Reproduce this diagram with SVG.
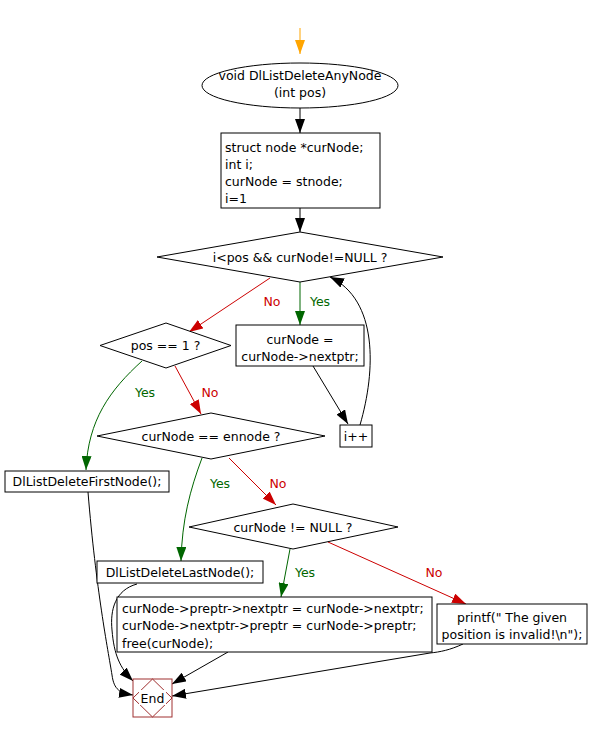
<svg xmlns="http://www.w3.org/2000/svg" width="589" height="732" viewBox="0 0 589 732">
<style>
text{font-family:"DejaVu Sans","Liberation Sans",sans-serif;font-size:12.5px;fill:#000}
.c{text-anchor:middle}
.n{fill:#fff;stroke:#000;stroke-width:1}
.e{fill:none;stroke:#000;stroke-width:1}
.r{stroke:#cc0000}
.g{stroke:#006600}
.o{stroke:#ffa500}
.lr{fill:#cc0000}
.lg{fill:#006600}
</style>
<defs>
<marker id="ab" markerUnits="userSpaceOnUse" viewBox="0 0 14 10" refX="14" refY="5" markerWidth="14" markerHeight="10" orient="auto"><path d="M0,0 L14,5 L0,10 z" fill="#000"/></marker>
<marker id="ar" markerUnits="userSpaceOnUse" viewBox="0 0 14 10" refX="14" refY="5" markerWidth="14" markerHeight="10" orient="auto"><path d="M0,0 L14,5 L0,10 z" fill="#cc0000"/></marker>
<marker id="ag" markerUnits="userSpaceOnUse" viewBox="0 0 14 10" refX="14" refY="5" markerWidth="14" markerHeight="10" orient="auto"><path d="M0,0 L14,5 L0,10 z" fill="#006600"/></marker>
<marker id="ao" markerUnits="userSpaceOnUse" viewBox="0 0 14 10" refX="14" refY="5" markerWidth="14" markerHeight="10" orient="auto"><path d="M0,0 L14,5 L0,10 z" fill="#ffa500"/></marker>
</defs>

<g id="connectors">
<path class="e o" d="M300,28 L300,54" marker-end="url(#ao)"/>
<path class="e" d="M300,108 L300,133" marker-end="url(#ab)"/>
<path class="e" d="M300,208 L300,232" marker-end="url(#ab)"/>
<path class="e g" d="M300,282 L300,325" marker-end="url(#ag)"/>
<path class="e r" d="M270,278 L189,332" marker-end="url(#ar)"/>
<path class="e" d="M313,366 L348,424" marker-end="url(#ab)"/>
<path class="e" d="M360,425 C376,370 378,300 330,277" marker-end="url(#ab)"/>
<path class="e r" d="M175,366 L201,414" marker-end="url(#ar)"/>
<path class="e g" d="M142,361 C110,390 88,420 86,470" marker-end="url(#ag)"/>
<path class="e r" d="M229,458 L276,505" marker-end="url(#ar)"/>
<path class="e g" d="M202,458 C190,490 182,520 181,561" marker-end="url(#ag)"/>
<path class="e g" d="M290,549 L281,597" marker-end="url(#ag)"/>
<path class="e r" d="M328,542 L466,604" marker-end="url(#ar)"/>
<path class="e" d="M88,492 C96,590 108,650 112,675 C114,690 120,693 133,695" marker-end="url(#ab)"/>
<path class="e" d="M137,584 C115,590 110,610 112,630 C114,655 120,668 133,681" marker-end="url(#ab)"/>
<path class="e" d="M228,652 L172,684" marker-end="url(#ab)"/>
<path class="e" d="M463,644 C450,650 440,652 430,653 L172,696" marker-end="url(#ab)"/>
</g>

<g id="labels">
<text class="c lr" x="272" y="305.5">No</text>
<text class="c lg" x="320" y="305.5">Yes</text>
<text class="c lg" x="145" y="396.5">Yes</text>
<text class="c lr" x="210" y="396.5">No</text>
<text class="c lg" x="220" y="487.5">Yes</text>
<text class="c lr" x="278" y="487.5">No</text>
<text class="c lg" x="305" y="576.5">Yes</text>
<text class="c lr" x="434" y="576.5">No</text>
</g>

<g id="start">
<ellipse class="n" cx="300" cy="85.5" rx="98" ry="22.5"/>
<text class="c" x="300" y="80">void DlListDeleteAnyNode</text>
<text class="c" x="300" y="97">(int pos)</text>
</g>

<g id="init">
<rect class="n" x="221" y="133" width="159" height="75"/>
<text x="225" y="152">struct node *curNode;</text>
<text x="225" y="169">int i;</text>
<text x="225" y="186">curNode = stnode;</text>
<text x="225" y="203">i=1</text>
</g>

<g id="loopcond">
<polygon class="n" points="300,232 443,257 300,282 157,257"/>
<text class="c" x="300" y="261.5">i&lt;pos &amp;&amp; curNode!=NULL ?</text>
</g>

<g id="advance">
<rect class="n" x="236" y="325" width="128" height="41"/>
<text class="c" x="300" y="343.5">curNode =</text>
<text class="c" x="300" y="360.5">curNode-&gt;nextptr;</text>
</g>

<g id="incr">
<rect class="n" x="340" y="425" width="32" height="22"/>
<text class="c" x="356" y="440.5">i++</text>
</g>

<g id="posone">
<polygon class="n" points="166,323 231,345.5 166,368 100,345.5"/>
<text class="c" x="165.5" y="350">pos == 1 ?</text>
</g>

<g id="ennode">
<polygon class="n" points="211,413 325,436 211,459 97,436"/>
<text class="c" x="211" y="440.5">curNode == ennode ?</text>
</g>

<g id="delfirst">
<rect class="n" x="5" y="471" width="164" height="21"/>
<text class="c" x="87" y="486">DlListDeleteFirstNode();</text>
</g>

<g id="notnull">
<polygon class="n" points="293,504 398,527 293,549 189,527"/>
<text class="c" x="293" y="531.5">curNode != NULL ?</text>
</g>

<g id="dellast">
<rect class="n" x="97" y="561" width="166" height="22"/>
<text class="c" x="180" y="576.5">DlListDeleteLastNode();</text>
</g>

<g id="unlink">
<rect class="n" x="117" y="597" width="315" height="55"/>
<text x="122" y="612.5">curNode-&gt;preptr-&gt;nextptr = curNode-&gt;nextptr;</text>
<text x="122" y="630">curNode-&gt;nextptr-&gt;preptr = curNode-&gt;preptr;</text>
<text x="122" y="647.5">free(curNode);</text>
</g>

<g id="invalid">
<rect class="n" x="437" y="604" width="150" height="40"/>
<text class="c" x="512" y="621.5">printf(" The given</text>
<text class="c" x="512" y="639">position is invalid!\n");</text>
</g>

<g id="end">
<rect x="133" y="679" width="39" height="38" fill="#fff" stroke="#a03030"/>
<polygon points="152.5,679 172,698 152.5,717 133,698" fill="none" stroke="#a03030"/>
<rect x="139" y="690" width="27" height="15" fill="#fff"/>
<text class="c" x="152.5" y="702.5">End</text>
</g>
</svg>
